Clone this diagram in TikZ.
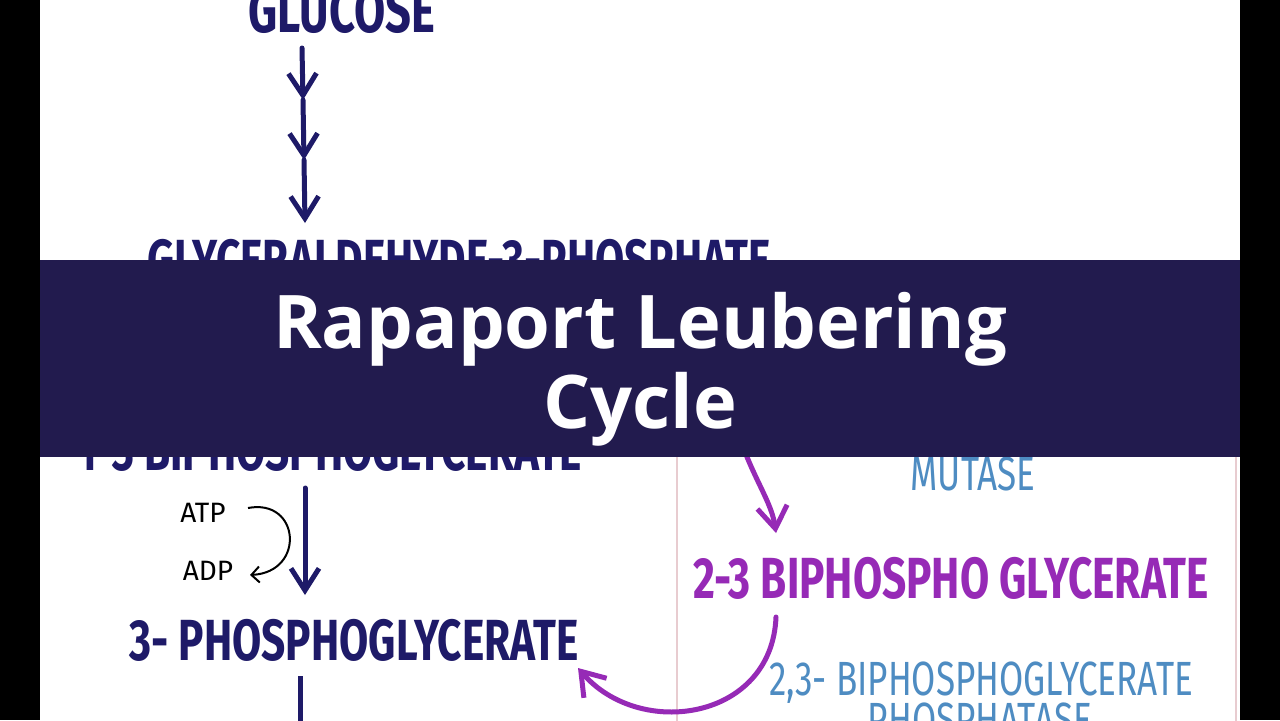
\documentclass[tikz,border=0pt]{standalone}
\usepackage{fontspec}
\usetikzlibrary{arrows.meta}
\setmainfont{Open Sans}
\newfontfamily\inkfont{Fira Sans}[FakeStretch=0.73]
\newfontfamily\penfont{Fira Sans}
\definecolor{ink}{RGB}{30,26,104}
\definecolor{bpgpurple}{RGB}{150,42,182}
\definecolor{enzblue}{RGB}{78,140,194}
\definecolor{banner}{RGB}{34,27,78}
\definecolor{boxline}{RGB}{232,204,208}
\begin{document}
\begin{tikzpicture}[x=0.5pt, y=-0.5pt,
  chem/.style={font=\inkfont\bfseries\fontsize{29}{29}\selectfont, text=ink, anchor=base, inner sep=0pt},
  bpg/.style={font=\inkfont\bfseries\fontsize{29}{29}\selectfont, text=bpgpurple, anchor=base, inner sep=0pt},
  enzyme/.style={font=\inkfont\fontsize{24}{24}\selectfont, text=enzblue, anchor=base, inner sep=0pt},
  cofactor/.style={font=\penfont\fontsize{14}{14}\selectfont, anchor=base, inner sep=0pt},
  inkarrow/.style={draw=ink, line width=2.5pt, line cap=round, -{Straight Barb[length=11pt,width=14pt]}},
  bpgarrow/.style={draw=bpgpurple, line width=2.5pt, line cap=round, -{Straight Barb[length=11pt,width=15pt]}},
  title/.style={font=\bfseries\fontsize{37}{40}\selectfont, text=white, align=center, anchor=base}]
\useasboundingbox (0,0) rectangle (1280,720);
\clip (0,0) rectangle (1280,720);
\fill[white] (40,0) rectangle (1240,720);
\draw[boxline, line width=1pt] (677,300) rectangle (1236,760);

\node[chem, font=\inkfont\bfseries\fontsize{31}{31}\selectfont] (glucose) at (342,32) {GLUCOSE};
\node[chem] (glyc) at (459,280) {GLYCERALDEHYDE-3-PHOSPHATE};
\node[chem] (bpg13) at (330,470) {1-3 BIPHOSPHOGLYCERATE};
\node[chem] (pg3) at (354,660) {3- PHOSPHOGLYCERATE};
\node[cofactor] (atp) at (203,522) {ATP};
\node[cofactor] (adp) at (208,580) {ADP};

\node[enzyme] (mutase) at (973,490) {MUTASE};
\node[bpg] (bpg23) at (951,598) {2-3 BIPHOSPHO GLYCERATE};
\node[enzyme] (phos) at (981,695) {2,3- BIPHOSPHOGLYCERATE};
\node[enzyme] (phos2) at (980,736) {PHOSPHATASE};

\coordinate (g0) at (302,48);
\coordinate (g1) at (303,100);
\coordinate (g2) at (304,160);
\coordinate (g3) at (305,223);
\draw[inkarrow] (g0) -- (g1);
\draw[inkarrow] (g1) -- (g2);
\draw[inkarrow] (g2) -- (g3);

\coordinate (b0) at (305,488);
\coordinate (b1) at (305,595);
\draw[inkarrow] (b0) -- (b1);
\coordinate (p0) at (300,676);
\coordinate (p1) at (300,730);
\draw[draw=ink, line width=2.5pt] (p0) -- (p1);

\coordinate (a0) at (248,508);
\coordinate (a1) at (250,575);
\draw[black, line width=1pt, -{Straight Barb[length=4pt,width=8pt]}] (a0) .. controls (300,498) and (306,572) .. (a1);

\coordinate (m0) at (745,452);
\coordinate (m1) at (776,533);
\draw[bpgarrow] (m0) .. controls (758,485) and (772,505) .. (m1);
\coordinate (r0) at (776,617);
\coordinate (r1) at (578,668);
\draw[bpgarrow] (r0) .. controls (772,720) and (640,740) .. (r1);

\fill[banner] (40,260) rectangle (1240,457);
\node[title] (heading) at (640,428) {Rapaport Leubering\\Cycle};

\fill[black] (0,0) rectangle (40,720);
\fill[black] (1240,0) rectangle (1280,720);
\end{tikzpicture}
\end{document}
